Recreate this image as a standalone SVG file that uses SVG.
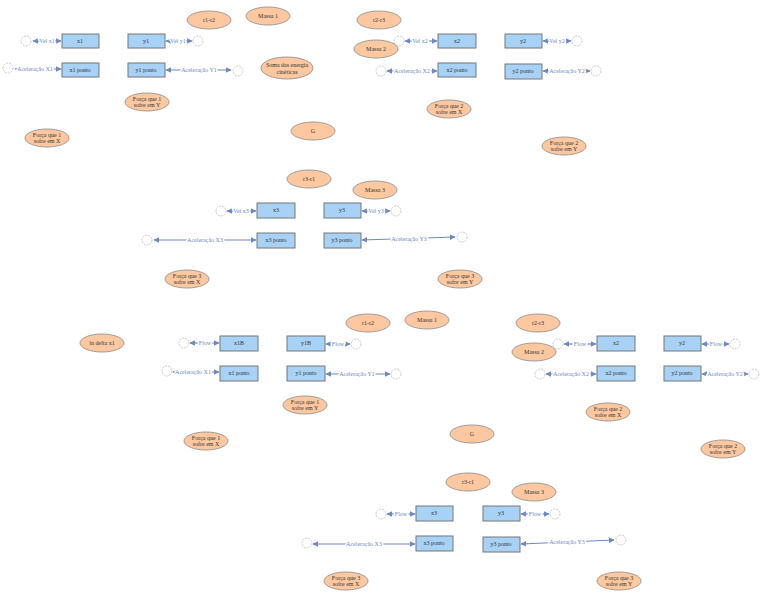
<svg xmlns="http://www.w3.org/2000/svg" width="763" height="600" viewBox="0 0 763 600">
<style>
.b{fill:#a7d1f5;stroke:#777;stroke-width:1}
.e{fill:#fdc8a0;stroke:#888;stroke-width:0.8}
.c{fill:#fff;stroke:#bbb;stroke-width:0.8;stroke-dasharray:2 1}
.t{font-family:"Liberation Serif",serif;font-size:6px;fill:#333;text-anchor:middle}
.l{font-family:"Liberation Serif",serif;font-size:6px;fill:#6d88c4;text-anchor:middle;paint-order:stroke;stroke:#fff;stroke-width:3}
.f{stroke:#6d88c4;stroke-width:1.2;fill:none;marker-start:url(#a);marker-end:url(#a)}
</style>
<defs><marker id="a" viewBox="0 0 10 10" refX="9" refY="5" markerWidth="5" markerHeight="5" orient="auto-start-reverse"><path d="M0,0L10,5L0,10z" fill="#6d88c4"/></marker></defs>
<g id="connectors">
<path class="f" d="M33,41H61"/><path class="f" d="M166,41H192"/>
<path class="f" d="M15,69H61"/><path class="f" d="M166,70H231"/>
<path class="f" d="M405,41H437"/><path class="f" d="M543,41H571"/>
<path class="f" d="M387,71H437"/><path class="f" d="M543,71H590"/>
<path class="f" d="M227,211H256"/><path class="f" d="M362,211H390"/>
<path class="f" d="M154,240H256"/><path class="f" d="M362,240L455,237"/>
<path class="f" d="M190,343H219"/><path class="f" d="M326,344H350"/>
<path class="f" d="M173,372H219"/><path class="f" d="M326,374H390"/>
<path class="f" d="M564,344H596"/><path class="f" d="M702,344H729"/>
<path class="f" d="M546,374H596"/><path class="f" d="M702,374H748"/>
<path class="f" d="M387,514H415"/><path class="f" d="M521,514H549"/>
<path class="f" d="M313,544H415"/><path class="f" d="M521,544L614,540"/>
<text class="l" x="47" y="43">Vel x1</text><text class="l" x="178" y="43">Vel y1</text>
<text class="l" x="35" y="71">Aceleração X1</text><text class="l" x="199" y="72">Aceleração Y1</text>
<text class="l" x="420" y="43">Vel x2</text><text class="l" x="557" y="43">Vel y2</text>
<text class="l" x="412" y="73">Aceleração X2</text><text class="l" x="567" y="73">Aceleração Y2</text>
<text class="l" x="241" y="213">Vel x3</text><text class="l" x="376" y="213">Vel y3</text>
<text class="l" x="205" y="242">Aceleração X3</text><text class="l" x="409" y="241">Aceleração Y3</text>
<text class="l" x="205" y="345">Flow</text><text class="l" x="338" y="346">Flow</text>
<text class="l" x="193" y="374">Aceleração X1</text><text class="l" x="357" y="376">Aceleração Y1</text>
<text class="l" x="580" y="346">Flow</text><text class="l" x="716" y="346">Flow</text>
<text class="l" x="571" y="376">Aceleração X2</text><text class="l" x="725" y="376">Aceleração Y2</text>
<text class="l" x="401" y="516">Flow</text><text class="l" x="535" y="516">Flow</text>
<text class="l" x="364" y="546">Aceleração X3</text><text class="l" x="567" y="544">Aceleração Y3</text>
</g>
<g id="clouds">
<circle class="c" cx="26" cy="41" r="5"/><circle class="c" cx="198" cy="41" r="5"/><circle class="c" cx="8" cy="68" r="5"/><circle class="c" cx="238" cy="71" r="5"/>
<circle class="c" cx="399" cy="41" r="5"/><circle class="c" cx="577" cy="41" r="5"/><circle class="c" cx="381" cy="71" r="5"/><circle class="c" cx="596" cy="71" r="5"/>
<circle class="c" cx="221" cy="211" r="5"/><circle class="c" cx="396" cy="211" r="5"/><circle class="c" cx="147" cy="240" r="5"/><circle class="c" cx="462" cy="237" r="5"/>
<circle class="c" cx="184" cy="343" r="5"/><circle class="c" cx="356" cy="344" r="5"/><circle class="c" cx="167" cy="371" r="5"/><circle class="c" cx="396" cy="374" r="5"/>
<circle class="c" cx="558" cy="344" r="5"/><circle class="c" cx="735" cy="344" r="5"/><circle class="c" cx="540" cy="374" r="5"/><circle class="c" cx="754" cy="374" r="5"/>
<circle class="c" cx="381" cy="514" r="5"/><circle class="c" cx="555" cy="514" r="5"/><circle class="c" cx="307" cy="543" r="5"/><circle class="c" cx="621" cy="540" r="5"/>
</g>
<g id="stocks">
<g id="x1"><rect class="b" x="62" y="34" width="37" height="14"/><text class="t" x="80" y="43">x1</text></g>
<g id="y1"><rect class="b" x="128" y="34" width="37" height="14"/><text class="t" x="146" y="43">y1</text></g>
<g id="x1p"><rect class="b" x="62" y="63" width="37" height="14"/><text class="t" x="80" y="72">x1 ponto</text></g>
<g id="y1p"><rect class="b" x="128" y="63" width="37" height="14"/><text class="t" x="146" y="72">y1 ponto</text></g>
<g id="x2"><rect class="b" x="438" y="34" width="38" height="14"/><text class="t" x="457" y="43">x2</text></g>
<g id="y2"><rect class="b" x="505" y="34" width="37" height="14"/><text class="t" x="523" y="43">y2</text></g>
<g id="x2p"><rect class="b" x="438" y="63" width="38" height="14"/><text class="t" x="457" y="72">x2 ponto</text></g>
<g id="y2p"><rect class="b" x="505" y="64" width="37" height="15"/><text class="t" x="523" y="73">y2 ponto</text></g>
<g id="x3"><rect class="b" x="257" y="203" width="38" height="15"/><text class="t" x="276" y="212">x3</text></g>
<g id="y3"><rect class="b" x="324" y="203" width="37" height="15"/><text class="t" x="342" y="212">y3</text></g>
<g id="x3p"><rect class="b" x="257" y="233" width="38" height="15"/><text class="t" x="276" y="242">x3 ponto</text></g>
<g id="y3p"><rect class="b" x="324" y="233" width="37" height="15"/><text class="t" x="342" y="242">y3 ponto</text></g>
<g id="x1B"><rect class="b" x="220" y="336" width="38" height="15"/><text class="t" x="239" y="345">x1B</text></g>
<g id="y1B"><rect class="b" x="287" y="336" width="38" height="15"/><text class="t" x="306" y="345">y1B</text></g>
<g id="x1pB"><rect class="b" x="220" y="366" width="38" height="15"/><text class="t" x="239" y="375">x1 ponto</text></g>
<g id="y1pB"><rect class="b" x="287" y="366" width="38" height="15"/><text class="t" x="306" y="375">y1 ponto</text></g>
<g id="x2B"><rect class="b" x="597" y="336" width="38" height="15"/><text class="t" x="616" y="345">x2</text></g>
<g id="y2B"><rect class="b" x="664" y="336" width="37" height="15"/><text class="t" x="682" y="345">y2</text></g>
<g id="x2pB"><rect class="b" x="597" y="366" width="38" height="15"/><text class="t" x="616" y="375">x2 ponto</text></g>
<g id="y2pB"><rect class="b" x="664" y="366" width="37" height="15"/><text class="t" x="682" y="375">y2 ponto</text></g>
<g id="x3B"><rect class="b" x="416" y="506" width="37" height="15"/><text class="t" x="434" y="515">x3</text></g>
<g id="y3B"><rect class="b" x="483" y="506" width="37" height="15"/><text class="t" x="501" y="515">y3</text></g>
<g id="x3pB"><rect class="b" x="416" y="536" width="37" height="15"/><text class="t" x="434" y="545">x3 ponto</text></g>
<g id="y3pB"><rect class="b" x="483" y="537" width="37" height="15"/><text class="t" x="501" y="546">y3 ponto</text></g>
</g>
<g id="aux">
<g><ellipse class="e" cx="209" cy="20" rx="22" ry="9"/><text class="t" x="209" y="22">r1-r2</text></g>
<g><ellipse class="e" cx="268" cy="16" rx="22" ry="9"/><text class="t" x="268" y="18">Massa 1</text></g>
<g><ellipse class="e" cx="287" cy="68" rx="26" ry="11"/><text class="t" x="287" y="67">Soma das energia</text><text class="t" x="287" y="74">cinéticas</text></g>
<g><ellipse class="e" cx="147" cy="102" rx="22" ry="9"/><text class="t" x="147" y="101">Força que 1</text><text class="t" x="147" y="107">sofre em Y</text></g>
<g><ellipse class="e" cx="47" cy="138" rx="22" ry="9"/><text class="t" x="47" y="137">Força que 1</text><text class="t" x="47" y="143">sofre em X</text></g>
<g><ellipse class="e" cx="313" cy="131" rx="22" ry="9"/><text class="t" x="313" y="133">G</text></g>
<g><ellipse class="e" cx="379" cy="20" rx="22" ry="9"/><text class="t" x="379" y="22">r2-r3</text></g>
<g><ellipse class="e" cx="376" cy="49" rx="22" ry="9"/><text class="t" x="376" y="51">Massa 2</text></g>
<g><ellipse class="e" cx="449" cy="109" rx="22" ry="9"/><text class="t" x="449" y="108">Força que 2</text><text class="t" x="449" y="114">sofre em X</text></g>
<g><ellipse class="e" cx="564" cy="146" rx="22" ry="9"/><text class="t" x="564" y="145">Força que 2</text><text class="t" x="564" y="151">sofre em Y</text></g>
<g><ellipse class="e" cx="309" cy="179" rx="22" ry="9"/><text class="t" x="309" y="181">r3-r1</text></g>
<g><ellipse class="e" cx="375" cy="190" rx="22" ry="9"/><text class="t" x="375" y="192">Massa 3</text></g>
<g><ellipse class="e" cx="187" cy="279" rx="22" ry="9"/><text class="t" x="187" y="278">Força que 3</text><text class="t" x="187" y="284">sofre em X</text></g>
<g><ellipse class="e" cx="460" cy="279" rx="22" ry="9"/><text class="t" x="460" y="278">Força que 3</text><text class="t" x="460" y="284">sofre em Y</text></g>
<g><ellipse class="e" cx="102" cy="343" rx="22" ry="9"/><text class="t" x="102" y="345">ln delta x1</text></g>
<g><ellipse class="e" cx="368" cy="323" rx="22" ry="9"/><text class="t" x="368" y="325">r1-r2</text></g>
<g><ellipse class="e" cx="427" cy="320" rx="22" ry="9"/><text class="t" x="427" y="322">Massa 1</text></g>
<g><ellipse class="e" cx="305" cy="405" rx="22" ry="9"/><text class="t" x="305" y="404">Força que 1</text><text class="t" x="305" y="410">sofre em Y</text></g>
<g><ellipse class="e" cx="206" cy="441" rx="22" ry="9"/><text class="t" x="206" y="440">Força que 1</text><text class="t" x="206" y="446">sofre em X</text></g>
<g><ellipse class="e" cx="472" cy="434" rx="22" ry="9"/><text class="t" x="472" y="436">G</text></g>
<g><ellipse class="e" cx="538" cy="323" rx="22" ry="9"/><text class="t" x="538" y="325">r2-r3</text></g>
<g><ellipse class="e" cx="534" cy="352" rx="22" ry="9"/><text class="t" x="534" y="354">Massa 2</text></g>
<g><ellipse class="e" cx="608" cy="412" rx="22" ry="9"/><text class="t" x="608" y="411">Força que 2</text><text class="t" x="608" y="417">sofre em X</text></g>
<g><ellipse class="e" cx="723" cy="449" rx="22" ry="9"/><text class="t" x="723" y="448">Força que 2</text><text class="t" x="723" y="454">sofre em Y</text></g>
<g><ellipse class="e" cx="468" cy="482" rx="22" ry="9"/><text class="t" x="468" y="484">r3-r1</text></g>
<g><ellipse class="e" cx="534" cy="492" rx="22" ry="9"/><text class="t" x="534" y="494">Massa 3</text></g>
<g><ellipse class="e" cx="346" cy="581" rx="22" ry="9"/><text class="t" x="346" y="580">Força que 3</text><text class="t" x="346" y="586">sofre em X</text></g>
<g><ellipse class="e" cx="619" cy="581" rx="22" ry="9"/><text class="t" x="619" y="580">Força que 3</text><text class="t" x="619" y="586">sofre em Y</text></g>
</g>
</svg>
